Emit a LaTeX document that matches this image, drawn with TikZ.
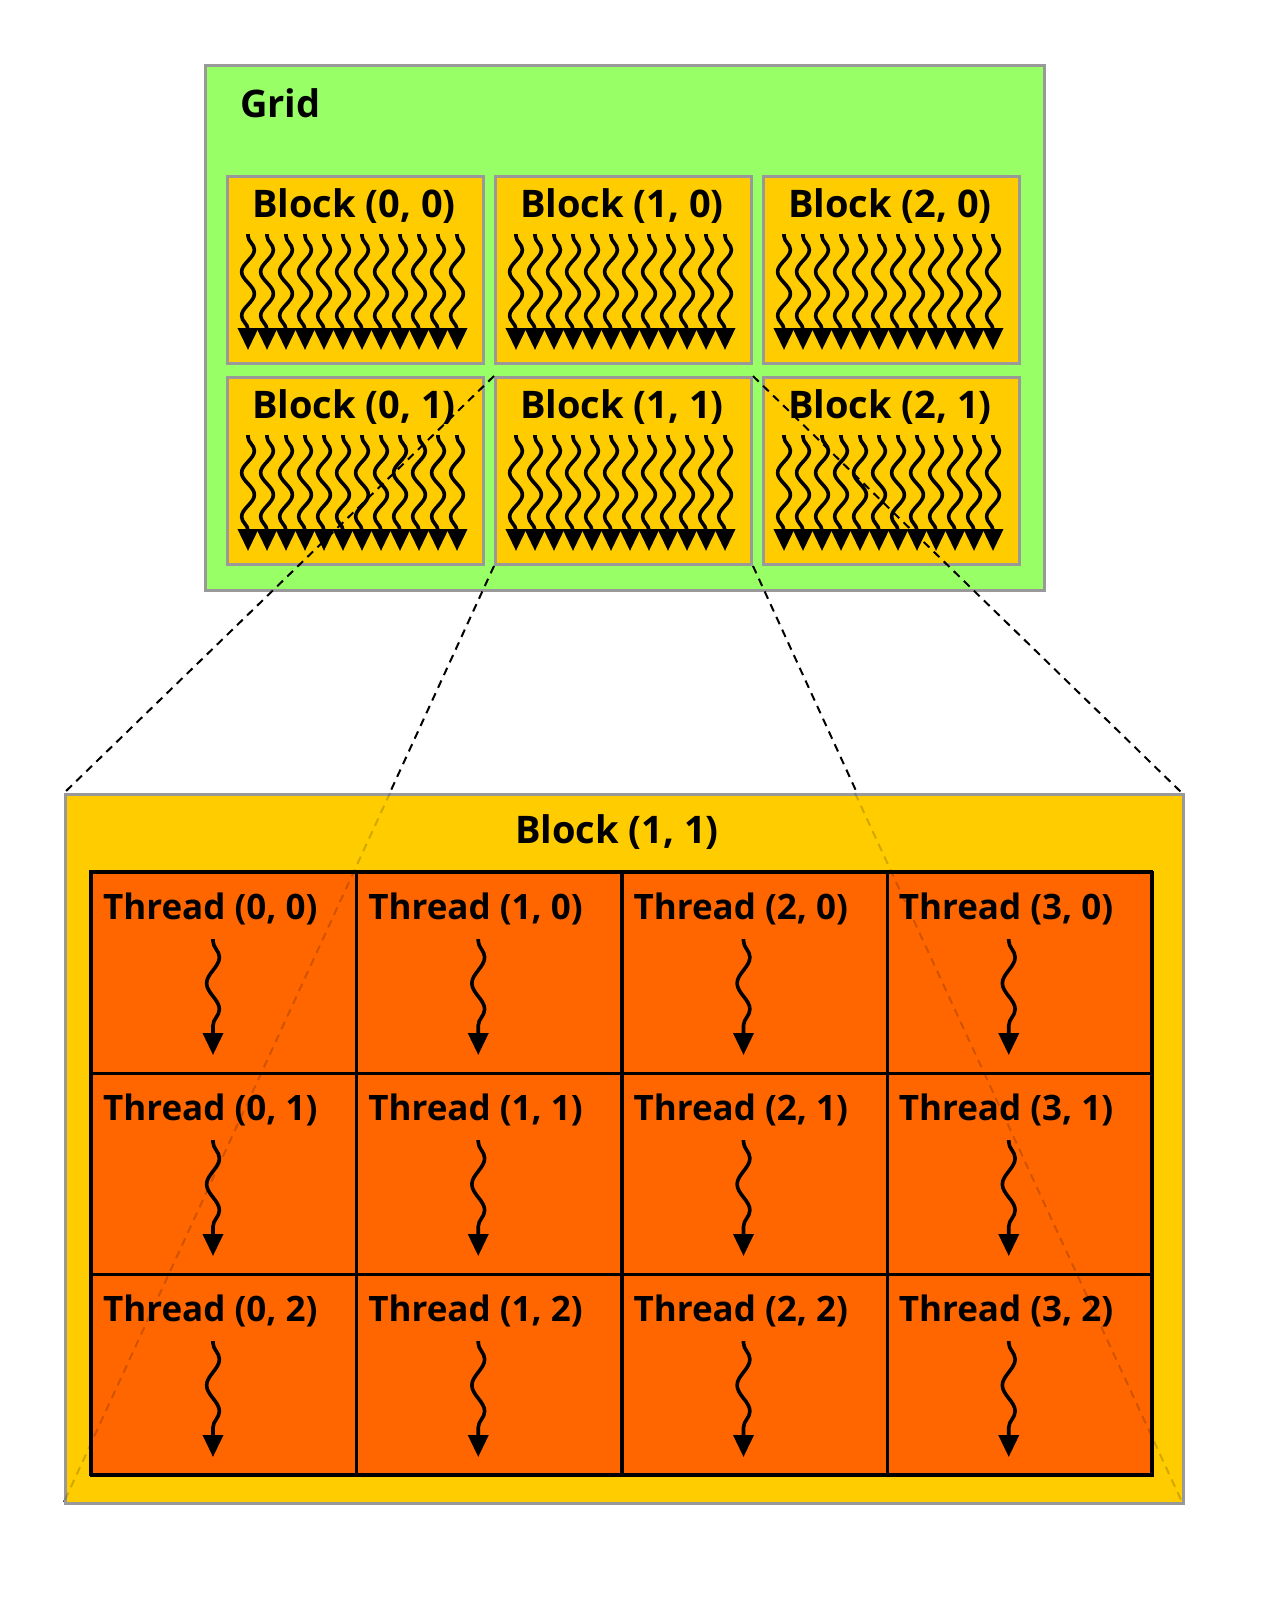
\documentclass[tikz,border=0pt]{standalone}
\usepackage{fontspec}
\setmainfont{Open Sans}
\usetikzlibrary{arrows.meta,decorations.pathmorphing}
\definecolor{gridgreen}{HTML}{99FF66}
\definecolor{blockyel}{HTML}{FFCC00}
\definecolor{thrdor}{HTML}{FF6600}
\definecolor{bord}{HTML}{999999}
\tikzset{
  gridbox/.style={fill=gridgreen,draw=bord,line width=1.5pt},
  blockbox/.style={fill=blockyel,draw=bord,line width=1.5pt},
  thbox/.style={fill=thrdor,draw=black,line width=1.5pt},
  lbl/.style={font=\bfseries\fontsize{19}{22}\selectfont},
  tlbl/.style={font=\bfseries\fontsize{17.5}{20}\selectfont,anchor=west},
  wav/.style={line width=1.8pt,decorate,decoration={snake,segment length=11pt,amplitude=3.2pt,pre length=1pt,post length=4pt},-{Triangle[width=10pt,length=11pt]}},
  twav/.style={line width=1.8pt,decorate,decoration={snake,segment length=15pt,amplitude=3.2pt,pre length=1pt,post length=4pt},-{Triangle[width=10pt,length=11pt]}},
  dsh/.style={dashed,line width=1pt,dash pattern=on 4pt off 3pt}
}
\begin{document}
\begin{tikzpicture}[x=0.5pt,y=-0.5pt]
\useasboundingbox (0,0) rectangle (1280,1607);
\node[gridbox,minimum width=419.5pt,minimum height=262.5pt,anchor=north west,inner sep=0] (grid) at (204,64) {};
\node[lbl,anchor=west] (gridlbl) at (233,103) {Grid};
\foreach \c/\x in {0/226,1/494,2/762}{
 \foreach \r/\y in {0/175,1/376}{
  \node[blockbox,minimum width=128pt,minimum height=93.5pt,anchor=north west,inner sep=0] (b\c\r) at (\x,\y) {};
  \node[lbl] (bl\c\r) at (\x+128,\y+31) {Block (\c, \r)};
  \foreach \k in {0,...,11}{
    \coordinate (s\c\r\k) at (\x+22+\k*19,\y+59);
    \coordinate (e\c\r\k) at (\x+22+\k*19,\y+175);
    \draw[wav,decoration={segment length=22pt}] (s\c\r\k) -- (e\c\r\k);
  }
 }
}
% dashed connectors
\coordinate (B1) at (64,793);
\coordinate (B2) at (1182,793);
\coordinate (B3) at (64,1502);
\coordinate (B4) at (1182,1502);
\draw[dsh] (b11.north west) -- (B1);
\draw[dsh] (b11.north east) -- (B2);
\draw[dsh] (b11.south west) -- (B3);
\draw[dsh] (b11.south east) -- (B4);
% big block
\node[blockbox,minimum width=559pt,minimum height=354.5pt,anchor=north west,inner sep=0] (big) at (64,793) {};
\node[lbl] (biglbl) at (617,832) {Block (1, 1)};
\foreach \c in {0,...,3}{
 \foreach \r in {0,1,2}{
  \node[thbox,minimum width=132.6pt,minimum height=100.5pt,anchor=north west,inner sep=0] (t\c\r) at (90+\c*265.25,871+\r*201) {};
  \node[tlbl] (tl\c\r) at (90+\c*265.25+6,871+\r*201+38) {Thread (\c, \r)};
  \coordinate (ts\c\r) at (90+\c*265.25+123,871+\r*201+68);
  \coordinate (te\c\r) at (90+\c*265.25+123,871+\r*201+184);
  \draw[twav,decoration={segment length=26pt}] (ts\c\r) -- (te\c\r);
 }
}
\draw[line width=1.5pt] (90,871) rectangle (1151,1474);
\begin{scope}[opacity=0.18]
\draw[dsh] (390,793) -- (B3);
\draw[dsh] (855,793) -- (B4);
\end{scope}
\end{tikzpicture}
\end{document}
